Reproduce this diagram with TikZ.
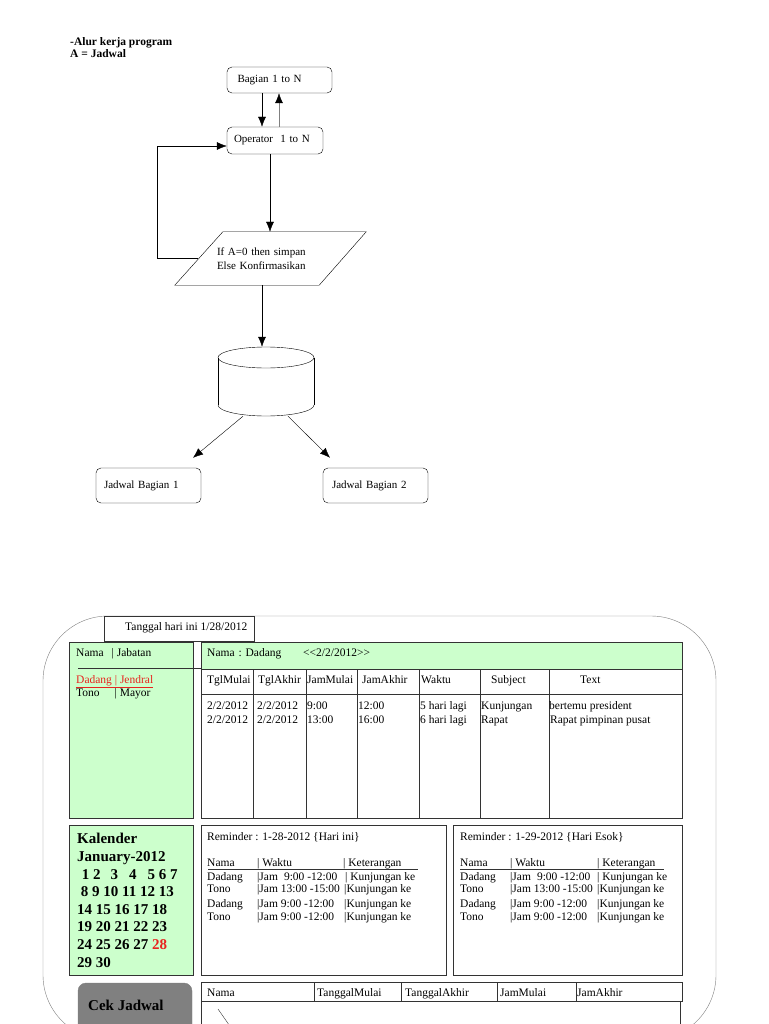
\documentclass[tikz,border=0pt]{standalone}
\usepackage{fontspec}
\setmainfont{Liberation Serif}
\usetikzlibrary{arrows.meta}
\definecolor{panelgreen}{HTML}{CCFFCC}
\definecolor{redtext}{HTML}{E8231E}
\definecolor{framegray}{HTML}{7F7F7F}
\definecolor{linegray}{HTML}{333333}
\definecolor{buttongray}{HTML}{808080}
\tikzset{
	flowbox/.style={draw=black, thin, rounded corners=5pt, align=left, inner xsep=0pt, font=\fontsize{11}{13}\selectfont},
	flowarrow/.style={draw=black, thin, -{Latex[length=10pt,width=8pt]}},
	uitext/.style={black, anchor=base west, inner sep=0pt, font=\fontsize{11.5}{13}\selectfont},
	caltext/.style={black, anchor=base west, inner sep=0pt, font=\fontsize{15}{17}\selectfont\bfseries},
	uiline/.style={draw=linegray, line width=0.9pt},
}
\begin{document}
\begin{tikzpicture}[x=1pt, y=-1pt]
	\useasboundingbox (0,0) rectangle (768,1024);
	\node[black, anchor=base west, inner sep=0pt, font=\fontsize{11.5}{13}\selectfont\bfseries] (title1) at (70,46) {-Alur kerja program};
	\node[black, anchor=base west, inner sep=0pt, font=\fontsize{11.5}{13}\selectfont\bfseries] (title2) at (70,58) {A = Jadwal};
	\node[flowbox, minimum width=105pt, minimum height=26pt, text width=84pt] (bagian) at (279.5,80) {Bagian 1 to N};
	\node[flowbox, minimum width=96pt, minimum height=27pt, text width=82pt] (operator) at (275,140.5) {Operator\ \ 1 to N};
	\node[align=left, inner sep=0pt, minimum width=191pt, minimum height=53pt, text width=107pt, font=\fontsize{11}{14.3}\selectfont] (kondisi) at (270.5,258.5) {If A=0 then simpan\\Else Konfirmasikan};
	\draw[draw=black, thin] ([xshift=48pt]kondisi.north west) -- (kondisi.north east) -- ([xshift=-47pt]kondisi.south east) -- (kondisi.south west) -- cycle;
	\node[inner sep=0pt, minimum width=96pt, minimum height=69pt] (db) at (266,381.5) {};
	\draw[draw=black, thin] (266,357.5) ellipse [x radius=48, y radius=10.5];
	\draw[draw=black, thin] (218,357.5) -- (218,405);
	\draw[draw=black, thin] (314,357.5) -- (314,405);
	\draw[draw=black, thin] (314,405) arc [start angle=0, end angle=180, x radius=48, y radius=11];
	\node[flowbox, minimum width=105pt, minimum height=35pt, text width=89pt] (jadwal1) at (148.5,485.5) {Jadwal Bagian 1};
	\node[flowbox, minimum width=105pt, minimum height=35pt, text width=87pt] (jadwal2) at (375.5,485.5) {Jadwal Bagian 2};
	\draw[flowarrow] ([xshift=-17.5pt]bagian.south) -- ([xshift=-13pt]operator.north);
	\draw[flowarrow, draw=gray, -{Latex[length=10pt,width=8pt,color=black]}] ([xshift=4pt]operator.north) -- ([xshift=-0.5pt]bagian.south);
	\draw[flowarrow] ([xshift=-5pt]operator.south) -- ([xshift=-0.5pt]kondisi.north);
	\draw[flowarrow] ([xshift=23.5pt]kondisi.west) -- ++(-41.5,0) |- ([yshift=-5.5pt]operator.west);
	\draw[flowarrow] ([xshift=-8.5pt]kondisi.south) -- ([xshift=-4pt]db.north);
	\draw[flowarrow] ([xshift=-23pt]db.south) -- ([xshift=44.5pt,yshift=10pt]jadwal1.north);
	\draw[flowarrow] ([xshift=22pt]db.south) -- ([xshift=-45.5pt,yshift=10pt]jadwal2.north);
	\draw[draw=framegray, thin, rounded corners=65pt] (43,616) rectangle (716,1040);
	\draw[uiline, fill=white] (104,616) rectangle (254,641);
	\node[uitext] (tanggal) at (125,630) {Tanggal hari ini 1/28/2012};
	\draw[uiline, fill=panelgreen] (69,642) rectangle (193,818);
	\node[uitext] (namajabatan) at (76,656) {Nama\hspace{8pt}| Jabatan};
	\draw[uiline] (78,668) -- (201,668);
	\node[uitext, text=redtext] (dadang) at (76,683) {\underline{Dadang | Jendral}};
	\node[uitext] (tono) at (76,696) {Tono\hspace{15pt}| Mayor};
	\draw[uiline, fill=panelgreen] (201,642) rectangle (682,669);
	\draw[uiline] (201,669) rectangle (682,818);
	\draw[uiline] (201,694) -- (682,694);
	\draw[uiline] (253,669) -- (253,818);
	\draw[uiline] (306,669) -- (306,818);
	\draw[uiline] (357,669) -- (357,818);
	\draw[uiline] (419,669) -- (419,818);
	\draw[uiline] (480,669) -- (480,818);
	\draw[uiline] (549,669) -- (549,818);
	\node[uitext] (namadadang) at (207,656) {Nama\hspace{4pt}: Dadang};
	\node[uitext] (navigasi) at (303,656) {<{}<2/2/2012>{}>};
	\node[uitext] (kolom) at (207,683) {\makebox[51pt][l]{TglMulai}\makebox[49pt][l]{TglAkhir}\makebox[55pt][l]{JamMulai}\makebox[59pt][l]{JamAkhir}\makebox[70pt][l]{Waktu}\makebox[89pt][l]{Subject}Text};
	\node[uitext] (baris1) at (207,709) {\makebox[50pt][l]{2/2/2012}\makebox[50pt][l]{2/2/2012}\makebox[51pt][l]{9:00}\makebox[62pt][l]{12:00}\makebox[61pt][l]{5 hari lagi}\makebox[68pt][l]{Kunjungan}bertemu president};
	\node[uitext] (baris2) at (207,723) {\makebox[50pt][l]{2/2/2012}\makebox[50pt][l]{2/2/2012}\makebox[51pt][l]{13:00}\makebox[62pt][l]{16:00}\makebox[61pt][l]{6 hari lagi}\makebox[69pt][l]{Rapat}Rapat pimpinan pusat};
	\draw[uiline, fill=panelgreen] (69,825) rectangle (193,975);
	\node[caltext] (kalender) at (77,843) {Kalender};
	\node[caltext] (bulan) at (77,861) {January-2012};
	\node[caltext] (minggu1) at (81.7,879) {1 2\hspace{10pt}3\hspace{11pt}4\hspace{11pt}5 6 7};
	\node[caltext] (minggu2) at (80.7,896.7) {8 9 10 11 12 13};
	\node[caltext] (minggu3) at (77,914) {14 15 16 17 18};
	\node[caltext] (minggu4) at (77,931.7) {19 20 21 22 23};
	\node[caltext] (minggu5) at (77,949) {24 25 26 27 \textcolor{redtext}{28}};
	\node[caltext] (minggu6) at (77,967) {29 30};
	\draw[uiline] (201,825) rectangle (446,975);
	\node[uitext] (reminder1) at (207,840) {Reminder : 1-28-2012 \{Hari ini\}};
	\node[uitext] (rkolom1) at (207,866.7) {\makebox[50pt][l]{Nama}\makebox[86pt][l]{| Waktu}| Keterangan};
	\draw[draw=linegray, thin] (208,869.3) -- (418,869.3);
	\node[uitext] (ra1) at (207,880) {\makebox[50pt][l]{Dadang}\makebox[88pt][l]{|Jam\hspace{6pt}9:00 -12:00}| Kunjungan ke};
	\node[uitext] (ra2) at (207,892.7) {\makebox[50pt][l]{Tono}\makebox[87pt][l]{|Jam 13:00 -15:00}|Kunjungan ke};
	\node[uitext] (ra3) at (207,907) {\makebox[50pt][l]{Dadang}\makebox[87pt][l]{|Jam 9:00 -12:00}|Kunjungan ke};
	\node[uitext] (ra4) at (207,920) {\makebox[50pt][l]{Tono}\makebox[87pt][l]{|Jam 9:00 -12:00}|Kunjungan ke};
	\draw[uiline] (453,825) rectangle (682,975);
	\node[uitext] (reminder2) at (460,840) {Reminder : 1-29-2012 \{Hari Esok\}};
	\node[uitext] (rkolom2) at (460,866.7) {\makebox[50pt][l]{Nama}\makebox[87pt][l]{| Waktu}| Keterangan};
	\draw[draw=linegray, thin] (460,869.3) -- (664,869.3);
	\node[uitext] (rb1) at (460,880) {\makebox[50pt][l]{Dadang}\makebox[87pt][l]{|Jam\hspace{6pt}9:00 -12:00}| Kunjungan ke};
	\node[uitext] (rb2) at (460,892.7) {\makebox[50pt][l]{Tono}\makebox[87pt][l]{|Jam 13:00 -15:00}|Kunjungan ke};
	\node[uitext] (rb3) at (460,907) {\makebox[50pt][l]{Dadang}\makebox[87pt][l]{|Jam 9:00 -12:00}|Kunjungan ke};
	\node[uitext] (rb4) at (460,920) {\makebox[50pt][l]{Tono}\makebox[87pt][l]{|Jam 9:00 -12:00}|Kunjungan ke};
	\draw[draw=framegray, fill=buttongray, rounded corners=8pt] (78,983) rectangle (192,1045);
	\node[caltext] (cekjadwal) at (88,1010) {Cek Jadwal};
	\draw[uiline] (201,982) rectangle (682,1001);
	\draw[uiline] (314,982) -- (314,1001);
	\draw[uiline] (401,982) -- (401,1001);
	\draw[uiline] (497,982) -- (497,1001);
	\draw[uiline] (576,982) -- (576,1001);
	\draw[uiline] (201,1001) -- (201,1040);
	\draw[uiline] (680,1001) -- (680,1040);
	\draw[draw=linegray, thin] (218,1009) -- (234,1032);
	\node[uitext] (jadwalkolom) at (207,996) {\makebox[110pt][l]{Nama}\makebox[88pt][l]{TanggalMulai}\makebox[95pt][l]{TanggalAkhir}\makebox[77pt][l]{JamMulai}JamAkhir};
\end{tikzpicture}
\end{document}
